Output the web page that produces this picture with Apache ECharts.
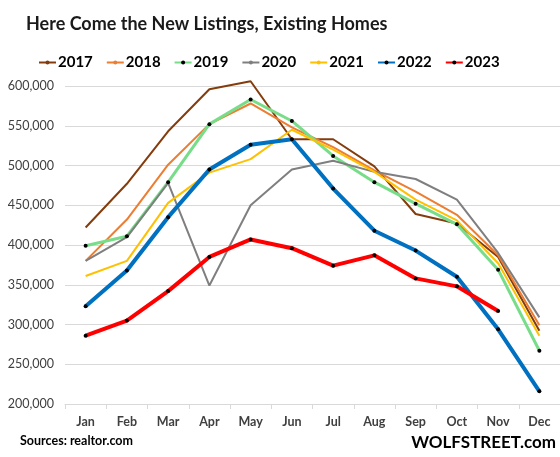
<!DOCTYPE html>
<html>
<head>
<meta charset="utf-8">
<script src="https://cdn.jsdelivr.net/npm/echarts@6/dist/echarts.min.js"></script>
<style>
html,body{margin:0;padding:0;background:#fff;}
#chart{width:560px;height:457px;}
</style>
</head>
<body>
<div id="chart"></div>
<script>
var months = ['Jan','Feb','Mar','Apr','May','Jun','Jul','Aug','Sep','Oct','Nov','Dec'];
var yTicks = [200000, 250000, 300000, 350000, 400000, 450000, 500000, 550000, 600000];
var y2017 = [422000, 477000, 543000, 596000, 606000, 533000, 533000, 499000, 439000, 427000, 385000, 292000];
var y2018 = [380000, 432000, 501000, 552000, 578000, 548000, 523000, 494000, 467000, 438000, 387000, 299000];
var y2019 = [399000, 411000, 479000, 552000, 583000, 556000, 512000, 479000, 452000, 426000, 369000, 267000];
var y2020 = [380000, 410000, 478000, 349000, 450000, 495000, 506000, 492000, 483000, 457000, 390000, 309000];
var y2021 = [361000, 380000, 453000, 491000, 508000, 545000, 520000, 492000, 457000, 431000, 377000, 286000];
var y2022 = [323000, 368000, 435000, 495000, 526000, 533000, 471000, 418000, 393000, 360000, 294000, 216000];
var y2023 = [286000, 305000, 342000, 385000, 407000, 396000, 374000, 387000, 358000, 348000, 317000];

function mk(name, data, color, width, dots) {
  return {
    name: name, type: 'line', data: data, clip: false,
    symbol: dots ? 'circle' : 'none', symbolSize: 4, showSymbol: dots,
    lineStyle: {color: color, width: width},
    itemStyle: {color: dots ? '#000' : color, borderWidth: 0},
    emphasis: {disabled: true}, animation: false
  };
}
var chart = echarts.init(document.getElementById('chart'));
var font = 'Lato, "Open Sans", sans-serif';
chart.setOption({
  backgroundColor: '#fff',
  animation: false,
  title: {
    text: 'Here Come the New Listings, Existing Homes',
    left: 21, top: 10,
    textStyle: {fontFamily: font, fontSize: 18, fontWeight: 'bold', color: '#1a1a1a'}
  },
  legend: {
    left: 33, top: 50, itemWidth: 17, itemHeight: 5, itemGap: 13,
    textStyle: {fontFamily: font, fontSize: 15, fontWeight: 'bold', color: '#000', padding: [0,0,0,-3]},
    data: ['2017','2018','2019','2020','2021','2022','2023']
  },
  grid: {left: 65, top: 86, width: 504, height: 318},
  xAxis: {
    type: 'category', data: months, boundaryGap: true,
    axisLine: {lineStyle: {color: '#d9d9d9', width: 1}},
    axisTick: {show: true, length: 5, lineStyle: {color: '#d9d9d9'}},
    axisLabel: {fontFamily: font, fontSize: 12.5, fontWeight: 'bold', color: '#404040', margin: 11}
  },
  yAxis: {
    type: 'value', min: yTicks[0], max: yTicks[yTicks.length-1], interval: 50000,
    axisLine: {show: false}, axisTick: {show: false},
    splitLine: {lineStyle: {color: '#d9d9d9', width: 1}},
    axisLabel: {fontFamily: font, fontSize: 12.5, color: '#404040', margin: 11,
      formatter: function(v){ return v.toLocaleString('en-US'); }}
  },
  graphic: [
    {type: 'text', left: 20, top: 434, style: {text: 'Sources: realtor.com', font: 'bold 12.5px Lato, sans-serif', fill: '#000'}},
    {type: 'text', right: 4, top: 434, style: {text: 'WOLFSTREET.com', font: 'bold 17px Lato, sans-serif', fill: '#000'}}
  ],
  series: [
    mk('2017', y2017, '#843c0c', 2, false),
    mk('2018', y2018, '#ed7d31', 2, false),
    mk('2019', y2019, '#77dd88', 3, true),
    mk('2020', y2020, '#7f7f7f', 2, false),
    mk('2021', y2021, '#ffc000', 2, false),
    mk('2022', y2022, '#0070c0', 4, true),
    mk('2023', y2023, '#ff0000', 4, true)
  ]
});
</script>
</body>
</html>
